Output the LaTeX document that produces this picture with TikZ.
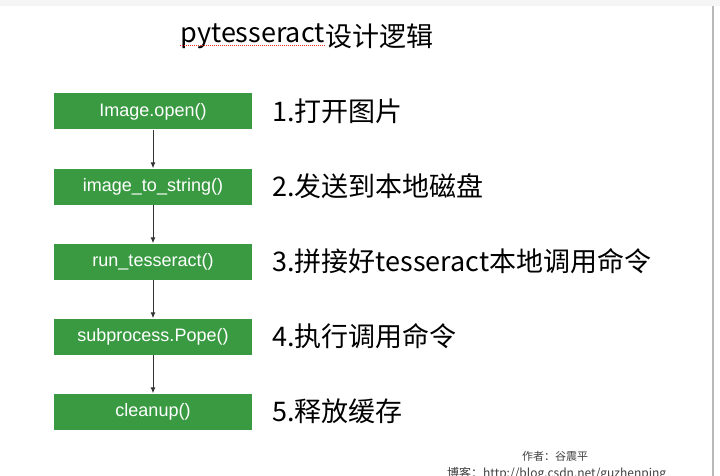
\documentclass[tikz,border=0pt]{standalone}
\usepackage{fontspec}
\setmainfont{Liberation Sans}
\newfontfamily\cjk{Noto Sans CJK SC}
\usetikzlibrary{arrows.meta}
\definecolor{boxgreen}{RGB}{58,154,66}
\definecolor{linkgray}{RGB}{51,51,51}
\tikzset{
  stepbox/.style={fill=boxgreen, text=white, minimum width=198pt, minimum height=36pt,
    inner sep=0pt, font=\fontsize{18}{20}\selectfont},
  steplabel/.style={anchor=west, inner sep=0pt, font=\cjk\fontsize{27}{30}\selectfont},
  flow/.style={-{Latex[length=6pt,width=5pt]}, linkgray, line width=1pt}
}
\begin{document}
\begin{tikzpicture}[x=1pt,y=-1pt]
      \useasboundingbox (0,0) rectangle (720,476);
      \fill[gray!8] (0,0) rectangle (720,6);
      \draw[gray!55, line width=2pt] (712.5,6) -- (712.5,476);
      % title
      \node[anchor=east, inner sep=0pt, font=\cjk\fontsize{27}{30}\selectfont] (titlelatin) at (325,36) {pytesseract};
      \node[anchor=west, inner sep=0pt, font=\cjk\fontsize{27}{30}\selectfont] (titlecjk) at (titlelatin.east) {设计逻辑};
      \draw[red!85, densely dotted, line width=1pt] ([yshift=-3pt]titlelatin.base west) -- ([yshift=-3pt]titlelatin.base east);
      % steps
      \draw
        (153,111.5) node[stepbox] (open){Image.open()}
        (153,186.5) node[stepbox] (tostring){image\_to\_string()}
        (153,261.5) node[stepbox] (run){run\_tesseract()}
        (153,336.5) node[stepbox] (popen){subprocess.Pope()}
        (153,411.5) node[stepbox] (cleanup){cleanup()};
      \draw
        (272,111.5) node[steplabel] (l1){1.打开图片}
        (272,186.5) node[steplabel] (l2){2.发送到本地磁盘}
        (272,261.5) node[steplabel] (l3){3.拼接好tesseract本地调用命令}
        (272,336.5) node[steplabel] (l4){4.执行调用命令}
        (272,411.5) node[steplabel] (l5){5.释放缓存};
      \begin{scope}[flow]
        \draw (open) to (tostring);
        \draw (tostring) to (run);
        \draw (run) to (popen);
        \draw (popen) to (cleanup);
      \end{scope}
      % footer
      \node[inner sep=0pt, font=\cjk\fontsize{11}{13}\selectfont, text=black!75] (author) at (555,456) {作者：谷震平};
      \node[anchor=west, inner sep=0pt, font=\cjk\fontsize{12}{14}\selectfont, text=black!75] (blog) at (447,474) {博客：http://blog.csdn.net/guzhenping};
    \end{tikzpicture}
\end{document}
